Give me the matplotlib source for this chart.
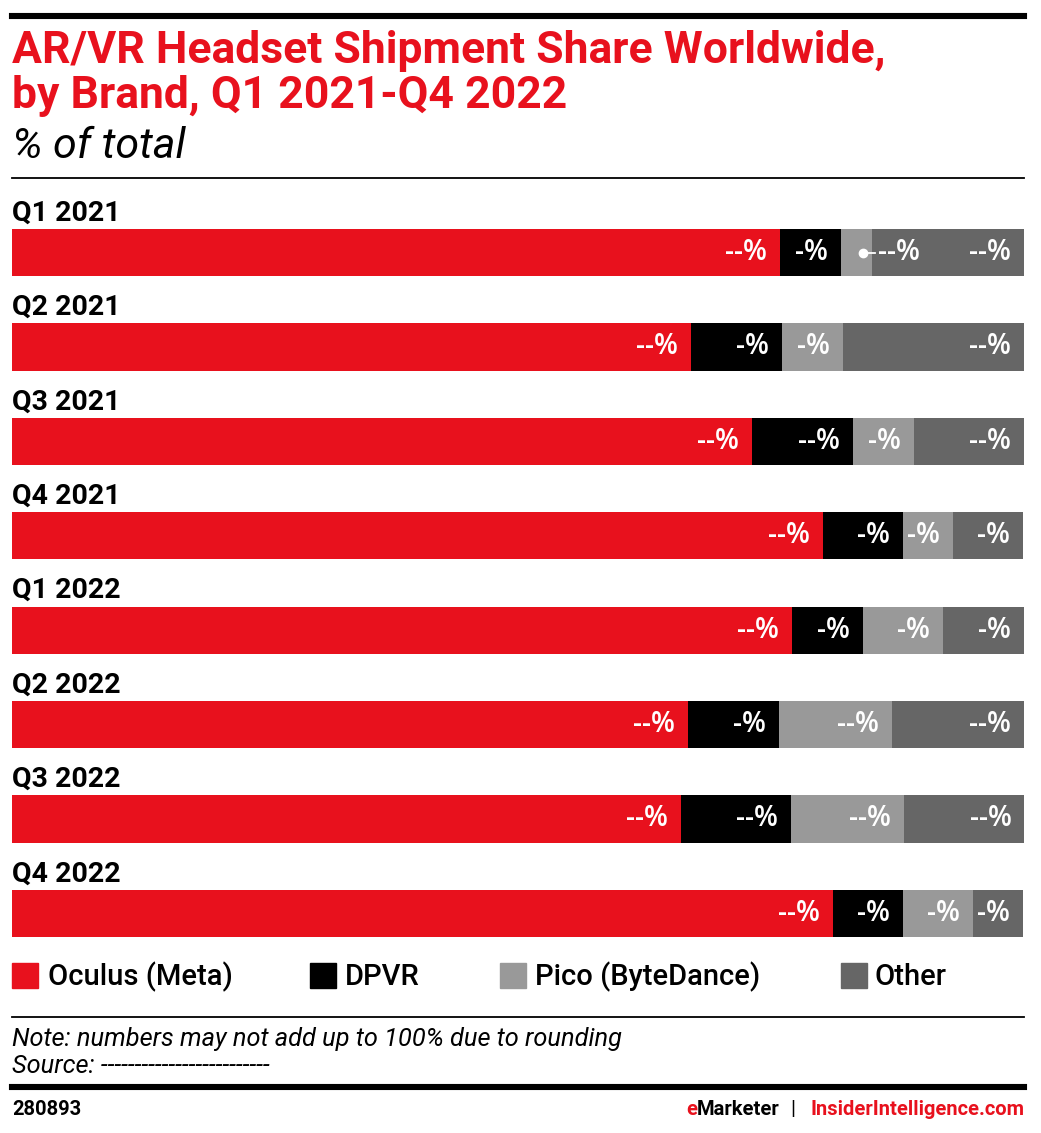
#!/usr/bin/env python3
"""AR/VR headset shipment share by brand, stacked horizontal bars."""
import matplotlib
matplotlib.use("Agg")
import matplotlib.pyplot as plt
from matplotlib.patches import Rectangle
from matplotlib.lines import Line2D

W, H = 1041, 1133

quarters = ["Q1 2021", "Q2 2021", "Q3 2021", "Q4 2021",
            "Q1 2022", "Q2 2022", "Q3 2022", "Q4 2022"]
brands = ["Oculus (Meta)", "DPVR", "Pico (ByteDance)", "Other"]
oculus = [75.9, 67.1, 73.1, 80.1, 77.1, 66.8, 66.1, 81.1]
dpvr = [6.0, 9.0, 10.0, 7.9, 7.0, 9.0, 10.9, 6.9]
pico = [3.1, 6.0, 6.0, 5.0, 7.9, 11.2, 11.1, 7.0]
other = [15.0, 17.9, 10.9, 6.9, 8.0, 13.0, 12.0, 4.9]
labels_oculus = ["--%"] * 8
labels_dpvr = ["-%", "-%", "--%", "-%", "-%", "-%", "--%", "-%"]
labels_pico = ["--%", "-%", "-%", "-%", "-%", "--%", "--%", "-%"]
labels_other = ["--%", "--%", "--%", "-%", "-%", "--%", "--%", "-%"]
colors = ["#E8111D", "#000000", "#999999", "#666666"]

FONT = "Roboto"
LABEL_FONT = "Open Sans"


def fy(px):
    return 1 - px / H


def fx(px):
    return px / W


fig = plt.figure(figsize=(W / 100, H / 100), dpi=100)
fig.patch.set_facecolor("white")

# header
fig.add_artist(Line2D([fx(12), fx(1024)], [fy(16), fy(16)], color="black", lw=4.4))
fig.text(fx(12), fy(63), "AR/VR Headset Shipment Share Worldwide,", color=colors[0],
         fontsize=32, fontweight="bold", family=FONT, va="baseline")
fig.text(fx(12), fy(108), "by Brand, Q1 2021-Q4 2022", color=colors[0],
         fontsize=32, fontweight="bold", family=FONT, va="baseline")
fig.text(fx(12), fy(158), "% of total", color="black", fontsize=31,
         fontstyle="italic", family=FONT, va="baseline")
fig.add_artist(Line2D([fx(12), fx(1024)], [fy(178), fy(178)], color="black", lw=1.3))

# bars
ax = fig.add_axes([fx(12), fy(937), fx(1024) - fx(12), (937 - 229) / H])
series = [oculus, dpvr, pico, other]
all_labels = [labels_oculus, labels_dpvr, labels_pico, labels_other]
bar_h = 0.498
ypos = list(range(len(quarters)))
left = [0.0] * len(quarters)
for vals, col in zip(series, colors):
    ax.barh(ypos, vals, left=left, height=bar_h, color=col, edgecolor="none")
    left = [l + v for l, v in zip(left, vals)]
ax.set_xlim(0, 100)
ax.set_ylim(len(quarters) - 1 + 0.25, -0.25)
ax.axis("off")

pad = 1.3
for i in ypos:
    start = 0.0
    for k, (vals, labs) in enumerate(zip(series, all_labels)):
        end = start + vals[i]
        if i == 0 and k == 2:
            # callout: segment too narrow, label sits in the next segment
            cx = start + vals[i] * 0.7
            ax.plot([cx], [i], "o", color="white", ms=6, zorder=4)
            ax.plot([cx, cx + 1.2], [i, i], color="white", lw=1.3, zorder=4)
            ax.text(cx + 1.5, i, labs[i], color="white", fontsize=20,
                    fontweight="semibold", family=LABEL_FONT, ha="left",
                    va="center", zorder=5)
        else:
            ax.text(end - pad, i, labs[i], color="white", fontsize=20,
                    fontweight="semibold", family=LABEL_FONT, ha="right",
                    va="center", zorder=5)
        start = end
    ax.text(0, i - 0.34, quarters[i], color="black", fontsize=20.5,
            fontweight="bold", family=FONT, ha="left", va="baseline",
            clip_on=False)

# legend
legend_sq = [12, 310, 500, 841]
legend_tx = [48, 345, 535, 875]
for name, col, sx, tx in zip(brands, colors, legend_sq, legend_tx):
    fig.add_artist(Rectangle((fx(sx), fy(988)), 26 / W, 25 / H,
                             transform=fig.transFigure, color=col))
    fig.text(fx(tx), fy(985), name, color="black", fontsize=21,
             fontweight="medium", family=FONT, va="baseline")

# footer
fig.add_artist(Line2D([fx(12), fx(1024)], [fy(1017), fy(1017)], color="black", lw=1.3))
fig.text(fx(12), fy(1046), "Note: numbers may not add up to 100% due to rounding",
         fontsize=18.3, fontstyle="italic", family=FONT, va="baseline")
fig.text(fx(12), fy(1073), "Source: -------------------------",
         fontsize=18.3, fontstyle="italic", family=FONT, va="baseline")
fig.add_artist(Line2D([fx(12), fx(1024)], [fy(1087), fy(1087)], color="black", lw=4.4))
fig.text(fx(12), fy(1115), "280893", fontsize=14.5, fontweight="bold",
         family=FONT, va="baseline")
fig.text(fx(1024), fy(1115), "InsiderIntelligence.com", fontsize=14.5,
         fontweight="bold", family=FONT, color=colors[0], ha="right",
         va="baseline")
fig.text(fx(793), fy(1115), "|", fontsize=14.5, family=FONT, ha="center",
         va="baseline")
mk = fig.text(fx(780), fy(1115), "Marketer", fontsize=14.5, fontweight="bold",
              family=FONT, color="black", ha="right", va="baseline")
fig.canvas.draw()
mk_left = mk.get_window_extent().x0 / fig.bbox.width
fig.text(mk_left, fy(1115), "e", fontsize=14.5, fontweight="bold",
         family=FONT, color=colors[0], ha="right", va="baseline")

fig.savefig("out.png", dpi=100)
